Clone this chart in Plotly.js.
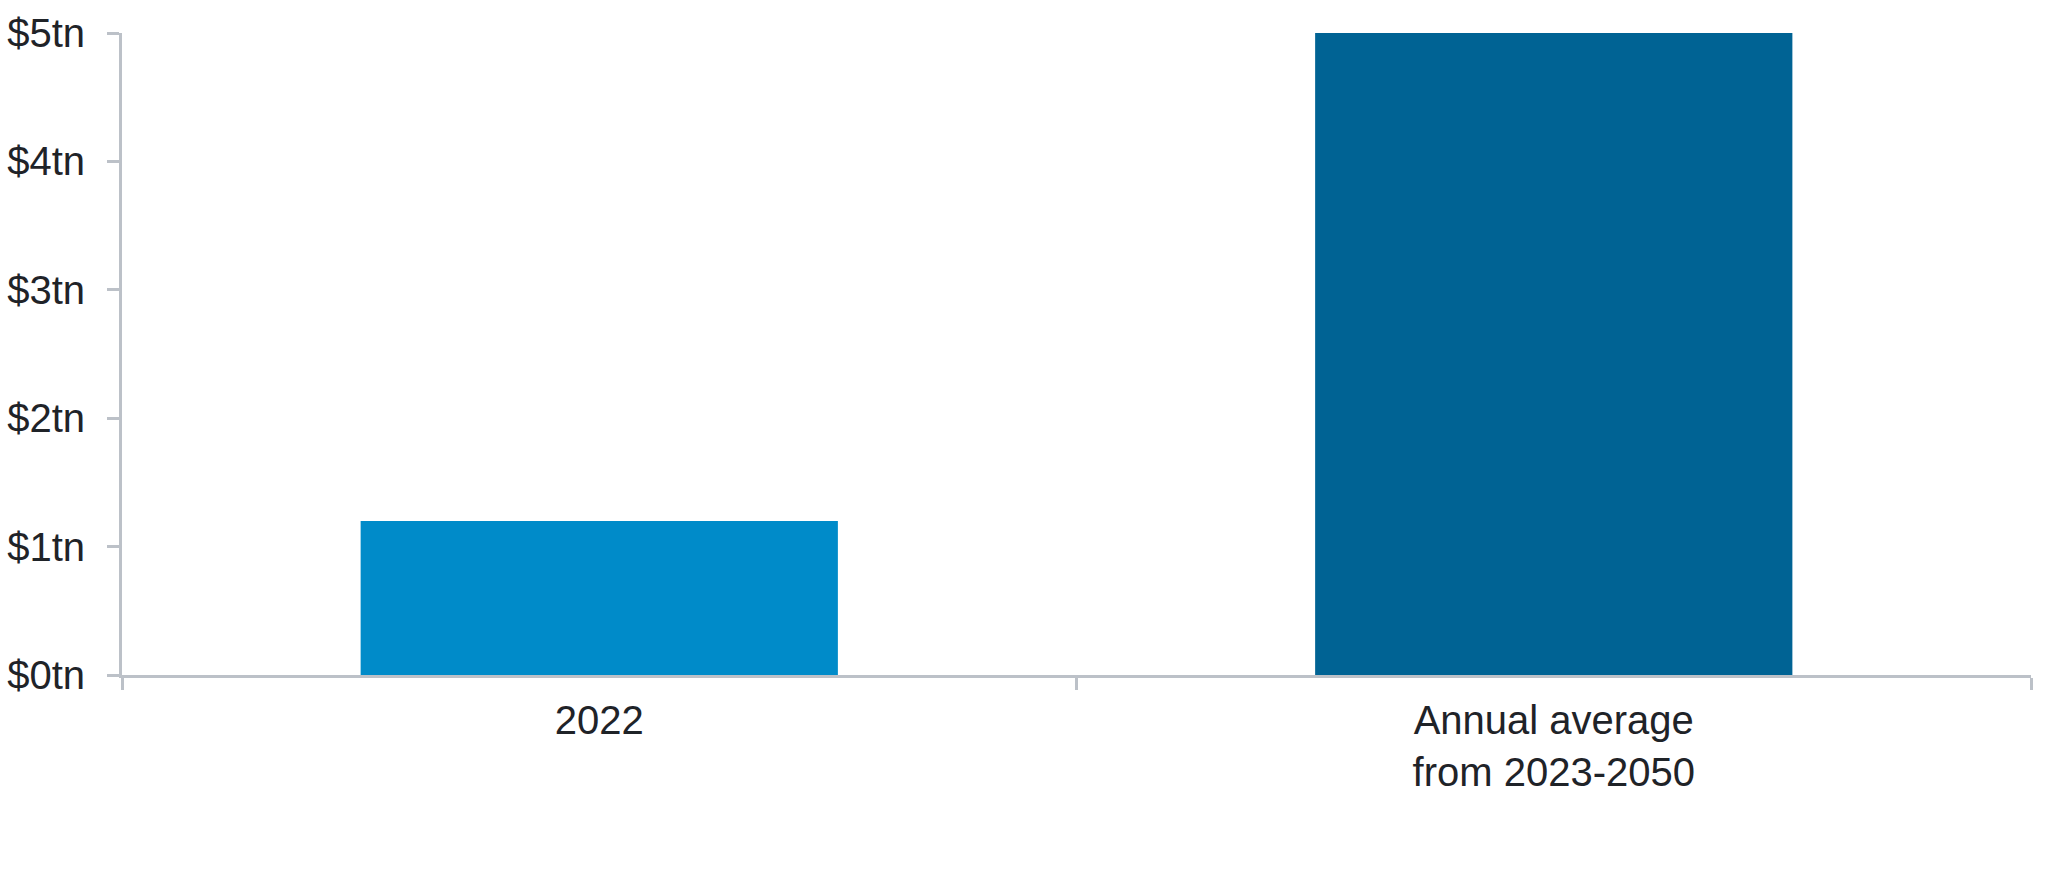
<!DOCTYPE html>
<html>
<head>
<meta charset="utf-8">
<script src="https://cdn.plot.ly/plotly-3.0.1.min.js"></script>
<style>
  html, body { margin: 0; padding: 0; background: #ffffff; }
  #chart { width: 2045px; height: 873px; }
</style>
</head>
<body>
<div id="chart"></div>
<script>
// Data
const categories = ["2022", "Annual average<br>from 2023-2050"];
const values = [1.2, 5.0];            // trillions of USD
const barColors = ["#008BC9", "#006394"];
const yTickVals = [0, 1, 2, 3, 4, 5];
const yTickText = ["$0tn", "$1tn", "$2tn", "$3tn", "$4tn", "$5tn"];

const trace = {
  type: "bar",
  x: categories,
  y: values,
  marker: { color: barColors, line: { width: 0 } },
  hoverinfo: "none"
};

const axisColor = "#BCC1C8";
const textColor = "#1F2328";

const layout = {
  width: 2045,
  height: 873,
  margin: { l: 122, r: 14, t: 33, b: 198, pad: 0 },
  paper_bgcolor: "#ffffff",
  plot_bgcolor: "#ffffff",
  font: { family: "Liberation Sans, Arial, sans-serif", size: 40, color: textColor },
  showlegend: false,
  bargap: 0.5,
  xaxis: {
    type: "category",
    showgrid: false,
    zeroline: false,
    showline: true,
    linecolor: axisColor,
    linewidth: 3,
    ticks: "outside",
    tickson: "boundaries",
    ticklen: 12,
    tickwidth: 3,
    tickcolor: axisColor,
    tickfont: { size: 40, color: textColor },
    ticklabelstandoff: 8,
    fixedrange: true
  },
  yaxis: {
    range: [0, 5],
    tickmode: "array",
    tickvals: yTickVals,
    ticktext: yTickText,
    showgrid: false,
    zeroline: false,
    showline: true,
    linecolor: axisColor,
    linewidth: 3,
    ticks: "outside",
    ticklen: 12,
    tickwidth: 3,
    tickcolor: axisColor,
    tickfont: { size: 40, color: textColor },
    ticklabelstandoff: 14,
    fixedrange: true
  }
};

Plotly.newPlot("chart", [trace], layout, { displayModeBar: false, staticPlot: true });
</script>
</body>
</html>
